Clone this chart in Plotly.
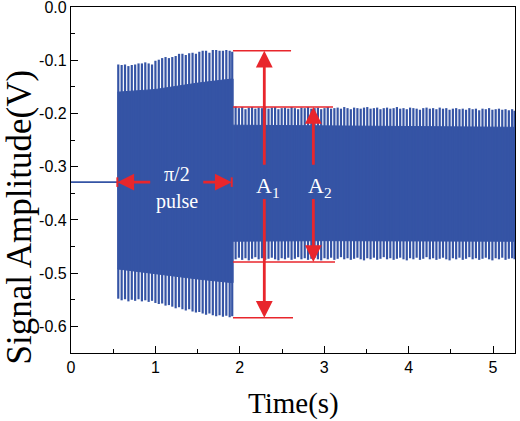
import plotly.graph_objects as go

BLUE = '#3554a5'
RED = '#e8262c'

# baseline before the pulse
base_t = [0.0, 0.55]
base_v = [-0.329, -0.329]

# solid core of the oscillation (envelope of the dark region)
band1_t = [0.55, 1.00, 1.50, 1.92]
band1_top = [-0.160, -0.155, -0.143, -0.135]
band1_bot = [-0.492, -0.501, -0.511, -0.518]

band2_t = [1.92, 3.00, 4.00, 5.26]
band2_top = [-0.222, -0.223, -0.224, -0.226]
band2_bot = [-0.440, -0.439, -0.439, -0.440]

# individual oscillation peaks, section 1 (during pi/2 pulse)
t1 = [0.56, 0.60, 0.64, 0.68, 0.72, 0.76, 0.80, 0.84, 0.88, 0.92,
      0.96, 1.00, 1.04, 1.08, 1.12, 1.16, 1.20, 1.24, 1.28, 1.32,
      1.36, 1.40, 1.44, 1.48, 1.52, 1.56, 1.60, 1.64, 1.68, 1.72,
      1.76, 1.80, 1.84, 1.88, 1.91]
top1 = [-0.108, -0.109, -0.108, -0.111, -0.109, -0.108, -0.106, -0.106, -0.104, -0.106,
        -0.108, -0.101, -0.099, -0.096, -0.094, -0.096, -0.094, -0.092, -0.088, -0.088,
        -0.090, -0.087, -0.086, -0.088, -0.084, -0.082, -0.082, -0.086, -0.081, -0.081,
        -0.082, -0.082, -0.081, -0.082, -0.084]
bot1 = [-0.548, -0.551, -0.549, -0.553, -0.550, -0.552, -0.549, -0.553, -0.551, -0.554,
        -0.552, -0.556, -0.558, -0.557, -0.561, -0.560, -0.563, -0.566, -0.564, -0.568,
        -0.570, -0.568, -0.572, -0.574, -0.573, -0.576, -0.578, -0.576, -0.579, -0.581,
        -0.579, -0.582, -0.580, -0.583, -0.581]

# section 2 (after the pulse)
t2 = [1.950, 1.989, 2.028, 2.067, 2.106, 2.145, 2.184, 2.223, 2.262, 2.301,
      2.340, 2.379, 2.418, 2.457, 2.496, 2.535, 2.574, 2.613, 2.652, 2.691,
      2.730, 2.769, 2.808, 2.847, 2.886, 2.925, 2.964, 3.003, 3.042, 3.081,
      3.120, 3.159, 3.198, 3.237, 3.276, 3.315, 3.354, 3.393, 3.432, 3.471,
      3.510, 3.549, 3.588, 3.627, 3.666, 3.705, 3.744, 3.783, 3.822, 3.861,
      3.900, 3.939, 3.978, 4.017, 4.056, 4.095, 4.134, 4.173, 4.212, 4.251,
      4.290, 4.329, 4.368, 4.407, 4.446, 4.485, 4.524, 4.563, 4.602, 4.641,
      4.680, 4.719, 4.758, 4.797, 4.836, 4.875, 4.914, 4.953, 4.992, 5.031,
      5.070, 5.109, 5.148, 5.187, 5.226, 5.255]
top2 = [-0.187, -0.190, -0.188, -0.192, -0.189, -0.188, -0.191, -0.189, -0.190, -0.188,
        -0.191, -0.189, -0.188, -0.192, -0.190, -0.189, -0.191, -0.188, -0.190, -0.192,
        -0.189, -0.190, -0.188, -0.191, -0.190, -0.189, -0.192, -0.190, -0.188, -0.191,
        -0.190, -0.189, -0.191, -0.188, -0.190, -0.192, -0.189, -0.190, -0.191, -0.189,
        -0.188, -0.191, -0.190, -0.189, -0.192, -0.190, -0.189, -0.191, -0.190, -0.188,
        -0.191, -0.190, -0.192, -0.189, -0.190, -0.191, -0.193, -0.190, -0.189, -0.191,
        -0.190, -0.192, -0.189, -0.191, -0.190, -0.193, -0.191, -0.190, -0.192, -0.191,
        -0.193, -0.190, -0.192, -0.191, -0.194, -0.191, -0.192, -0.190, -0.193, -0.192,
        -0.191, -0.193, -0.192, -0.194, -0.192, -0.195]
bot2 = [-0.474, -0.471, -0.475, -0.472, -0.476, -0.473, -0.470, -0.474, -0.472, -0.475,
        -0.473, -0.471, -0.474, -0.476, -0.472, -0.474, -0.471, -0.475, -0.473, -0.470,
        -0.474, -0.472, -0.475, -0.473, -0.471, -0.474, -0.476, -0.472, -0.474, -0.471,
        -0.475, -0.473, -0.470, -0.474, -0.472, -0.475, -0.473, -0.471, -0.474, -0.476,
        -0.472, -0.474, -0.471, -0.475, -0.473, -0.470, -0.474, -0.472, -0.475, -0.473,
        -0.471, -0.474, -0.476, -0.472, -0.474, -0.471, -0.475, -0.473, -0.470, -0.474,
        -0.472, -0.475, -0.473, -0.471, -0.474, -0.476, -0.472, -0.474, -0.471, -0.475,
        -0.473, -0.470, -0.474, -0.472, -0.475, -0.473, -0.471, -0.474, -0.476, -0.472,
        -0.474, -0.471, -0.475, -0.473, -0.472, -0.474]

# annotation geometry (data units)
ref_lines = [  # (v, t_start, t_end)
    (-0.082, 1.919, 2.607),
    (-0.188, 1.919, 3.104),
    (-0.479, 1.919, 3.128),
    (-0.584, 1.919, 2.630),
]
arrows = [  # (tip_t, tip_v, tail_t, tail_v)
    (2.290, -0.082, 2.290, -0.299),
    (2.290, -0.584, 2.290, -0.358),
    (2.871, -0.188, 2.871, -0.299),
    (2.871, -0.479, 2.871, -0.358),
    (0.549, -0.329, 0.956, -0.329),
    (1.904, -0.329, 1.549, -0.329),
]
bars = [(0.549, -0.320, -0.338), (1.904, -0.320, -0.338)]
labels = [  # (t, v, text, size)
    (1.25, -0.314, 'π/2', 20),
    (1.25, -0.366, 'pulse', 20),
    (2.335, -0.338, 'A<sub>1</sub>', 22),
    (2.945, -0.338, 'A<sub>2</sub>', 22),
]

x_ticks = [0, 1, 2, 3, 4, 5]
x_ticktext = ['0', '1', '2', '3', '4', '5']
y_ticks = [0.0, -0.1, -0.2, -0.3, -0.4, -0.5, -0.6]
y_ticktext = ['0.0', '-0.1', '-0.2', '-0.3', '-0.4', '-0.5', '-0.6']

fig = go.Figure()

fig.add_trace(go.Scatter(x=base_t, y=base_v, mode='lines',
                         line=dict(color=BLUE, width=1.6), hoverinfo='skip'))

for bt, btop, bbot in [(band1_t, band1_top, band1_bot), (band2_t, band2_top, band2_bot)]:
    fig.add_trace(go.Scatter(x=bt + bt[::-1], y=btop + bbot[::-1], mode='lines',
                             fill='toself', fillcolor=BLUE,
                             line=dict(color=BLUE, width=1), hoverinfo='skip'))

xs, ys = [], []
for tt, tp, bm in list(zip(t1, top1, bot1)) + list(zip(t2, top2, bot2)):
    xs += [tt, tt, None]
    ys += [tp, bm, None]
fig.add_trace(go.Scatter(x=xs, y=ys, mode='lines',
                         line=dict(color=BLUE, width=2.2), hoverinfo='skip'))

for v, a, b in ref_lines:
    fig.add_shape(type='line', x0=a, x1=b, y0=v, y1=v, xref='x', yref='y',
                  line=dict(color=RED, width=1.5))
for t, a, b in bars:
    fig.add_shape(type='line', x0=t, x1=t, y0=a, y1=b, xref='x', yref='y',
                  line=dict(color=RED, width=2))

for tx, tv, ax, av in arrows:
    fig.add_annotation(x=tx, y=tv, ax=ax, ay=av, xref='x', yref='y',
                       axref='x', ayref='y', text='', showarrow=True,
                       arrowhead=2, arrowsize=1.2, arrowwidth=2.8,
                       arrowcolor=RED, standoff=0)

for t, v, txt, sz in labels:
    fig.add_annotation(x=t, y=v, text=txt, showarrow=False, xref='x', yref='y',
                       font=dict(family='Liberation Serif', size=sz, color='white'))

fig.add_annotation(x=0.5, y=-0.145, xref='paper', yref='paper', text='Time(s)',
                   showarrow=False, xanchor='center', yanchor='middle',
                   font=dict(family='Liberation Serif', size=29, color='black'))
fig.add_annotation(x=-0.117, y=0.392, xref='paper', yref='paper',
                   text='Signal Amplitude(V)', textangle=-90,
                   showarrow=False, xanchor='center', yanchor='middle',
                   font=dict(family='Liberation Serif', size=35, color='black'))

axis_common = dict(showgrid=False, zeroline=False, showline=True, linecolor='black',
                   linewidth=1.2, mirror=True, ticks='inside', ticklen=7,
                   tickwidth=1.2, tickcolor='black', automargin=False,
                   ticklabeloverflow='allow',
                   tickfont=dict(family='Liberation Sans', size=16, color='black'))

fig.update_xaxes(range=[0, 5.26], tickmode='array', tickvals=x_ticks, ticktext=x_ticktext,
                 minor=dict(tickmode='linear', tick0=0, dtick=0.5, ticks='inside',
                            ticklen=4, tickwidth=1.2, tickcolor='black'),
                 **axis_common)
fig.update_yaxes(range=[-0.65, 0.0], tickmode='array', tickvals=y_ticks, ticktext=y_ticktext,
                 minor=dict(tickmode='linear', tick0=0, dtick=0.05, ticks='inside',
                            ticklen=4, tickwidth=1.2, tickcolor='black'),
                 **axis_common)

fig.update_layout(width=520, height=421, showlegend=False,
                  margin=dict(l=71, r=5, t=7, b=68),
                  plot_bgcolor='white', paper_bgcolor='white')

fig.write_html('out.html', config={'displayModeBar': False},
               post_script="document.body.style.margin='0';document.body.style.padding='0';")
